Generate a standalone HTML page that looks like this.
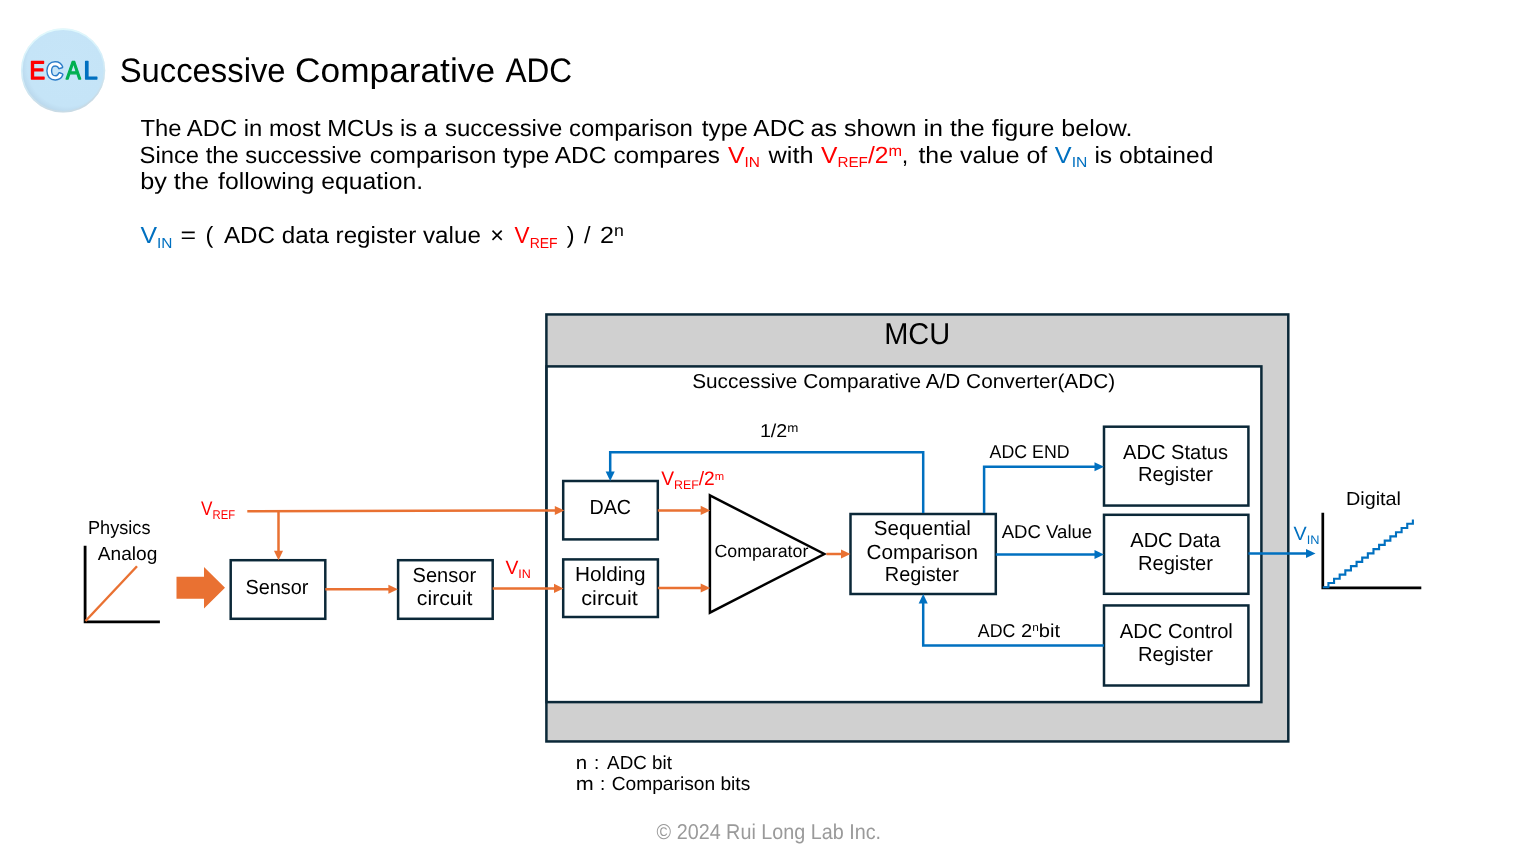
<!DOCTYPE html>
<html><head><meta charset="utf-8">
<style>
html,body{margin:0;padding:0;background:#fff;width:1536px;height:864px;overflow:hidden;}
svg{display:block;will-change:transform;text-rendering:geometricPrecision;font-family:"Liberation Sans",sans-serif;}
</style></head>
<body>
<svg width="1536" height="864" viewBox="0 0 1536 864"><defs>
<radialGradient id="lg" cx="55%" cy="45%" r="55%">
<stop offset="0%" stop-color="#c6e5f8"/>
<stop offset="88%" stop-color="#c5e4f7"/>
<stop offset="100%" stop-color="#bcdaee"/>
</radialGradient>
<linearGradient id="rim" x1="0" y1="0" x2="0.2" y2="1">
<stop offset="0%" stop-color="#e4fbfd"/>
<stop offset="45%" stop-color="#d4f0fb"/>
<stop offset="100%" stop-color="#c8dbe6"/>
</linearGradient>
<marker id="ao" viewBox="0 0 9.5 9.2" refX="9.5" refY="4.6" markerWidth="9.5" markerHeight="9.2" markerUnits="userSpaceOnUse" orient="auto" overflow="visible"><path d="M0,0L9.5,4.6L0,9.2z" fill="#E97132"/></marker>
<marker id="ab" viewBox="0 0 9.5 9.2" refX="9.5" refY="4.6" markerWidth="9.5" markerHeight="9.2" markerUnits="userSpaceOnUse" orient="auto" overflow="visible"><path d="M0,0L9.5,4.6L0,9.2z" fill="#0070C0"/></marker>
</defs>
<circle cx="63.1" cy="70.4" r="42.2" fill="#eef2f5"/>
<circle cx="63.1" cy="70.4" r="41.3" fill="url(#lg)" stroke="url(#rim)" stroke-width="1.6"/>

<rect x="546.4" y="314.45" width="741.9" height="427.0" fill="#D0D0D0" stroke="#0B2838" stroke-width="2.5"/>
<rect x="546.6" y="366.4" width="714.8" height="335.7" fill="#ffffff" stroke="#0B2838" stroke-width="2.5"/>
<g fill="#fff" stroke="#0B2838" stroke-width="2.5">
<rect x="230.7" y="560.2" width="94.6" height="58.6"/>
<rect x="398.1" y="560.2" width="94.6" height="58.6"/>
<rect x="563.2" y="481.0" width="94.6" height="58.4"/>
<rect x="563.2" y="559.4" width="94.7" height="57.6"/>
<rect x="850.5" y="514.0" width="145.3" height="80"/>
<rect x="1104" y="426.7" width="144.4" height="78.86"/>
<rect x="1104" y="514.8" width="144.4" height="79"/>
<rect x="1104" y="605.45" width="144.4" height="80.05"/>
</g>
<path d="M709.9,495.4 L824.3,554 L709.9,612.6 Z" fill="#fff" stroke="#000" stroke-width="2.5" stroke-linejoin="miter"/>
<path d="M85.1,545.8 V621.8 H159.9" fill="none" stroke="#000" stroke-width="2.8"/>
<path d="M85.5,621 L137,566.3" fill="none" stroke="#E97132" stroke-width="2.4"/>
<path d="M176.5,576.7 H204 V567 L225,587.8 L204,608.6 V598.8 H176.5 Z" fill="#E97132"/>
<path d="M247.30,511.30 L559.80,510.41" fill="none" stroke="#E97132" stroke-width="2.5" stroke-linejoin="miter"/><path d="M564.30,510.40 L554.81,514.98 L554.79,505.88 Z" fill="#E97132"/><path d="M278.50,511.30 L278.50,555.70" fill="none" stroke="#E97132" stroke-width="2.5" stroke-linejoin="miter"/><path d="M278.50,560.20 L273.95,550.70 L283.05,550.70 Z" fill="#E97132"/><path d="M325.30,589.20 L393.40,589.20" fill="none" stroke="#E97132" stroke-width="2.5" stroke-linejoin="miter"/><path d="M397.90,589.20 L388.40,593.75 L388.40,584.65 Z" fill="#E97132"/><path d="M492.70,588.40 L559.00,588.40" fill="none" stroke="#E97132" stroke-width="2.5" stroke-linejoin="miter"/><path d="M563.50,588.40 L554.00,592.95 L554.00,583.85 Z" fill="#E97132"/><path d="M657.80,510.40 L705.70,510.40" fill="none" stroke="#E97132" stroke-width="2.5" stroke-linejoin="miter"/><path d="M710.20,510.40 L700.70,514.95 L700.70,505.85 Z" fill="#E97132"/><path d="M657.90,588.00 L705.70,588.00" fill="none" stroke="#E97132" stroke-width="2.5" stroke-linejoin="miter"/><path d="M710.20,588.00 L700.70,592.55 L700.70,583.45 Z" fill="#E97132"/><path d="M826.40,554.00 L846.00,554.00" fill="none" stroke="#E97132" stroke-width="2.5" stroke-linejoin="miter"/><path d="M850.50,554.00 L841.00,558.55 L841.00,549.45 Z" fill="#E97132"/><path d="M923.20,513.00 L923.20,452.20 L610.20,452.20 L610.20,476.60" fill="none" stroke="#0070C0" stroke-width="2.5" stroke-linejoin="miter"/><path d="M610.20,481.10 L605.65,471.60 L614.75,471.60 Z" fill="#0070C0"/><path d="M984.10,513.00 L984.10,466.80 L1099.50,466.80" fill="none" stroke="#0070C0" stroke-width="2.5" stroke-linejoin="miter"/><path d="M1104.00,466.80 L1094.50,471.35 L1094.50,462.25 Z" fill="#0070C0"/><path d="M995.80,554.50 L1099.50,554.50" fill="none" stroke="#0070C0" stroke-width="2.5" stroke-linejoin="miter"/><path d="M1104.00,554.50 L1094.50,559.05 L1094.50,549.95 Z" fill="#0070C0"/><path d="M1104.00,645.60 L923.20,645.60 L923.20,598.50" fill="none" stroke="#0070C0" stroke-width="2.5" stroke-linejoin="miter"/><path d="M923.20,594.00 L927.75,603.50 L918.65,603.50 Z" fill="#0070C0"/><path d="M1248.40,553.50 L1311.00,553.50" fill="none" stroke="#0070C0" stroke-width="2.5" stroke-linejoin="miter"/><path d="M1315.50,553.50 L1306.00,558.05 L1306.00,548.95 Z" fill="#0070C0"/>
<path d="M1322.8,512.8 V587.8 H1421.3" fill="none" stroke="#000" stroke-width="2.7"/>
<path d="M1322.8,587.3 H1328.43 V583.06 H1334.06 V578.82 H1339.69 V574.58 H1345.32 V570.34 H1350.95 V566.10 H1356.58 V561.86 H1362.21 V557.62 H1367.84 V553.38 H1373.47 V549.14 H1379.10 V544.90 H1384.73 V540.66 H1390.36 V536.42 H1395.99 V532.18 H1401.62 V527.94 H1407.25 V523.70 H1412.88 V519.46" fill="none" stroke="#0070C0" stroke-width="2.1"/>

<text x="119.70" y="82.00" font-size="34" fill="#000" textLength="165.90" lengthAdjust="spacingAndGlyphs" xml:space="preserve"><tspan y="82.00">Successive</tspan></text>
<text x="295.10" y="82.00" font-size="34" fill="#000" textLength="199.90" lengthAdjust="spacingAndGlyphs" xml:space="preserve"><tspan y="82.00">Comparative</tspan></text>
<text x="505.40" y="82.00" font-size="34" fill="#000" textLength="66.60" lengthAdjust="spacingAndGlyphs" xml:space="preserve"><tspan y="82.00">ADC</tspan></text>
<text x="140.50" y="135.90" font-size="23.4" fill="#000000" textLength="296.60" lengthAdjust="spacingAndGlyphs" xml:space="preserve"><tspan y="135.90">The ADC in most MCUs is a</tspan></text>
<text x="445.00" y="135.90" font-size="23.4" fill="#000000" textLength="247.90" lengthAdjust="spacingAndGlyphs" xml:space="preserve"><tspan y="135.90">successive comparison</tspan></text>
<text x="701.80" y="135.90" font-size="23.4" fill="#000000" textLength="103.10" lengthAdjust="spacingAndGlyphs" xml:space="preserve"><tspan y="135.90">type ADC</tspan></text>
<text x="810.60" y="135.90" font-size="23.4" fill="#000000" textLength="321.80" lengthAdjust="spacingAndGlyphs" xml:space="preserve"><tspan y="135.90">as shown in the figure below.</tspan></text>
<text x="139.50" y="162.90" font-size="23.4" fill="#000000" textLength="222.30" lengthAdjust="spacingAndGlyphs" xml:space="preserve"><tspan y="162.90">Since the successive</tspan></text>
<text x="369.70" y="162.90" font-size="23.4" fill="#000000" textLength="236.80" lengthAdjust="spacingAndGlyphs" xml:space="preserve"><tspan y="162.90">comparison type ADC</tspan></text>
<text x="613.40" y="162.90" font-size="23.4" fill="#000000" textLength="106.60" lengthAdjust="spacingAndGlyphs" xml:space="preserve"><tspan y="162.90">compares</tspan></text>
<text x="727.90" y="162.90" font-size="23.4" fill="#FF0000" textLength="32.00" lengthAdjust="spacingAndGlyphs" xml:space="preserve"><tspan y="162.90">V</tspan><tspan font-size="14.50" y="167.10">IN</tspan></text>
<text x="768.60" y="162.90" font-size="23.4" fill="#000000" textLength="45.00" lengthAdjust="spacingAndGlyphs" xml:space="preserve"><tspan y="162.90">with</tspan></text>
<text x="821.00" y="162.90" font-size="23.4" fill="#FF0000" textLength="81.00" lengthAdjust="spacingAndGlyphs" xml:space="preserve"><tspan y="162.90">V</tspan><tspan font-size="14.50" y="167.10">REF</tspan><tspan y="162.90">/2</tspan><tspan font-size="15.50" y="156.00">m</tspan></text>
<text x="901.65" y="162.90" font-size="23.4" fill="#000000" xml:space="preserve"><tspan y="162.90">,</tspan></text>
<text x="918.40" y="162.90" font-size="23.4" fill="#000000" textLength="128.80" lengthAdjust="spacingAndGlyphs" xml:space="preserve"><tspan y="162.90">the value of</tspan></text>
<text x="1054.80" y="162.90" font-size="23.4" fill="#0070C0" textLength="32.50" lengthAdjust="spacingAndGlyphs" xml:space="preserve"><tspan y="162.90">V</tspan><tspan font-size="14.50" y="167.10">IN</tspan></text>
<text x="1094.40" y="162.90" font-size="23.4" fill="#000000" textLength="119.00" lengthAdjust="spacingAndGlyphs" xml:space="preserve"><tspan y="162.90">is obtained</tspan></text>
<text x="140.20" y="189.40" font-size="23.4" fill="#000000" textLength="68.80" lengthAdjust="spacingAndGlyphs" xml:space="preserve"><tspan y="189.40">by the</tspan></text>
<text x="218.00" y="189.40" font-size="23.4" fill="#000000" textLength="205.10" lengthAdjust="spacingAndGlyphs" xml:space="preserve"><tspan y="189.40">following equation.</tspan></text>
<text x="140.50" y="242.90" font-size="23.4" fill="#0070C0" textLength="32.00" lengthAdjust="spacingAndGlyphs" xml:space="preserve"><tspan y="242.90">V</tspan><tspan font-size="14.50" y="247.80">IN</tspan></text>
<text x="180.60" y="242.90" font-size="23.4" fill="#000000" textLength="15.60" lengthAdjust="spacingAndGlyphs" xml:space="preserve"><tspan y="242.90">=</tspan></text>
<text x="205.45" y="242.90" font-size="23.4" fill="#000000" xml:space="preserve"><tspan y="242.90">(</tspan></text>
<text x="223.90" y="242.90" font-size="23.4" fill="#000000" textLength="257.00" lengthAdjust="spacingAndGlyphs" xml:space="preserve"><tspan y="242.90">ADC data register value</tspan></text>
<text x="490.25" y="242.90" font-size="23.4" fill="#000000" xml:space="preserve"><tspan y="242.90">×</tspan></text>
<text x="514.60" y="242.90" font-size="23.4" fill="#FF0000" textLength="43.00" lengthAdjust="spacingAndGlyphs" xml:space="preserve"><tspan y="242.90">V</tspan><tspan font-size="14.50" y="247.80">REF</tspan></text>
<text x="566.75" y="242.90" font-size="23.4" fill="#000000" xml:space="preserve"><tspan y="242.90">)</tspan></text>
<text x="583.95" y="242.90" font-size="23.4" fill="#000000" xml:space="preserve"><tspan y="242.90">/</tspan></text>
<text x="600.10" y="242.90" font-size="23.4" fill="#000000" textLength="23.90" lengthAdjust="spacingAndGlyphs" xml:space="preserve"><tspan y="242.90">2</tspan><tspan font-size="16.50" y="236.20">n</tspan></text>
<text x="884.20" y="344.10" font-size="30.2" fill="#000" textLength="66.00" lengthAdjust="spacingAndGlyphs" xml:space="preserve"><tspan y="344.10">MCU</tspan></text>
<text x="692.20" y="388.20" font-size="20.2" fill="#000000" textLength="423.00" lengthAdjust="spacingAndGlyphs" xml:space="preserve"><tspan y="388.20">Successive Comparative A/D Converter(ADC)</tspan></text>
<text x="245.40" y="593.70" font-size="20.5" fill="#000000" textLength="63.00" lengthAdjust="spacingAndGlyphs" xml:space="preserve"><tspan y="593.70">Sensor</tspan></text>
<text x="412.60" y="581.90" font-size="20.5" fill="#000000" textLength="63.50" lengthAdjust="spacingAndGlyphs" xml:space="preserve"><tspan y="581.90">Sensor</tspan></text>
<text x="416.80" y="604.70" font-size="20.5" fill="#000000" textLength="55.50" lengthAdjust="spacingAndGlyphs" xml:space="preserve"><tspan y="604.70">circuit</tspan></text>
<text x="589.50" y="514.40" font-size="20.5" fill="#000000" textLength="41.50" lengthAdjust="spacingAndGlyphs" xml:space="preserve"><tspan y="514.40">DAC</tspan></text>
<text x="575.00" y="581.20" font-size="20.5" fill="#000000" textLength="70.50" lengthAdjust="spacingAndGlyphs" xml:space="preserve"><tspan y="581.20">Holding</tspan></text>
<text x="581.30" y="604.50" font-size="20.5" fill="#000000" textLength="56.50" lengthAdjust="spacingAndGlyphs" xml:space="preserve"><tspan y="604.50">circuit</tspan></text>
<text x="714.40" y="557.20" font-size="17.6" fill="#000000" textLength="94.00" lengthAdjust="spacingAndGlyphs" xml:space="preserve"><tspan y="557.20">Comparator</tspan></text>
<text x="873.80" y="534.70" font-size="20.5" fill="#000000" textLength="97.00" lengthAdjust="spacingAndGlyphs" xml:space="preserve"><tspan y="534.70">Sequential</tspan></text>
<text x="866.50" y="558.50" font-size="20.5" fill="#000000" textLength="111.50" lengthAdjust="spacingAndGlyphs" xml:space="preserve"><tspan y="558.50">Comparison</tspan></text>
<text x="884.80" y="581.10" font-size="20.5" fill="#000000" textLength="74.00" lengthAdjust="spacingAndGlyphs" xml:space="preserve"><tspan y="581.10">Register</tspan></text>
<text x="1123.00" y="458.90" font-size="20.5" fill="#000000" textLength="105.00" lengthAdjust="spacingAndGlyphs" xml:space="preserve"><tspan y="458.90">ADC Status</tspan></text>
<text x="1137.90" y="481.00" font-size="20.5" fill="#000000" textLength="75.00" lengthAdjust="spacingAndGlyphs" xml:space="preserve"><tspan y="481.00">Register</tspan></text>
<text x="1130.30" y="547.40" font-size="20.5" fill="#000000" textLength="90.00" lengthAdjust="spacingAndGlyphs" xml:space="preserve"><tspan y="547.40">ADC Data</tspan></text>
<text x="1137.90" y="570.40" font-size="20.5" fill="#000000" textLength="75.00" lengthAdjust="spacingAndGlyphs" xml:space="preserve"><tspan y="570.40">Register</tspan></text>
<text x="1119.80" y="637.90" font-size="20.5" fill="#000000" textLength="113.00" lengthAdjust="spacingAndGlyphs" xml:space="preserve"><tspan y="637.90">ADC Control</tspan></text>
<text x="1137.90" y="661.00" font-size="20.5" fill="#000000" textLength="75.00" lengthAdjust="spacingAndGlyphs" xml:space="preserve"><tspan y="661.00">Register</tspan></text>
<text x="759.90" y="436.70" font-size="18.5" fill="#000000" textLength="38.50" lengthAdjust="spacingAndGlyphs" xml:space="preserve"><tspan y="436.70">1/2</tspan><tspan font-size="12.50" y="431.50">m</tspan></text>
<text x="989.60" y="458.30" font-size="18.7" fill="#000000" textLength="80.00" lengthAdjust="spacingAndGlyphs" xml:space="preserve"><tspan y="458.30">ADC END</tspan></text>
<text x="1001.70" y="538.10" font-size="18.7" fill="#000000" textLength="90.50" lengthAdjust="spacingAndGlyphs" xml:space="preserve"><tspan y="538.10">ADC Value</tspan></text>
<text x="977.80" y="637.00" font-size="18.7" fill="#000000" textLength="37.60" lengthAdjust="spacingAndGlyphs" xml:space="preserve"><tspan y="637.00">ADC</tspan></text>
<text x="1021.00" y="637.00" font-size="18.7" fill="#000000" textLength="39.00" lengthAdjust="spacingAndGlyphs" xml:space="preserve"><tspan y="637.00">2</tspan><tspan font-size="11.00" y="631.40">n</tspan><tspan y="637.00">bit</tspan></text>
<text x="201.10" y="515.20" font-size="19.5" fill="#FF0000" textLength="34.00" lengthAdjust="spacingAndGlyphs" xml:space="preserve"><tspan y="515.20">V</tspan><tspan font-size="12.80" y="519.10">REF</tspan></text>
<text x="505.40" y="574.30" font-size="19.2" fill="#FF0000" textLength="25.50" lengthAdjust="spacingAndGlyphs" xml:space="preserve"><tspan y="574.30">V</tspan><tspan font-size="12.40" y="578.30">IN</tspan></text>
<text x="661.20" y="485.30" font-size="19.5" fill="#FF0000" textLength="63.00" lengthAdjust="spacingAndGlyphs" xml:space="preserve"><tspan y="485.30">V</tspan><tspan font-size="12.50" y="489.20">REF</tspan><tspan y="485.30">/2</tspan><tspan font-size="11.40" y="480.10">m</tspan></text>
<text x="1293.50" y="539.70" font-size="19.2" fill="#0070C0" textLength="26.00" lengthAdjust="spacingAndGlyphs" xml:space="preserve"><tspan y="539.70">V</tspan><tspan font-size="12.40" y="543.70">IN</tspan></text>
<text x="88.00" y="533.50" font-size="18.9" fill="#000000" textLength="62.50" lengthAdjust="spacingAndGlyphs" xml:space="preserve"><tspan y="533.50">Physics</tspan></text>
<text x="97.80" y="560.40" font-size="18.9" fill="#000000" textLength="59.50" lengthAdjust="spacingAndGlyphs" xml:space="preserve"><tspan y="560.40">Analog</tspan></text>
<text x="1346.00" y="504.60" font-size="18.9" fill="#000000" textLength="55.00" lengthAdjust="spacingAndGlyphs" xml:space="preserve"><tspan y="504.60">Digital</tspan></text>
<text x="575.80" y="768.60" font-size="18.9" fill="#000000" textLength="11.40" lengthAdjust="spacingAndGlyphs" xml:space="preserve"><tspan y="768.60">n</tspan></text>
<text x="594.10" y="768.60" font-size="18.9" fill="#000000" xml:space="preserve"><tspan y="768.60">:</tspan></text>
<text x="607.10" y="768.60" font-size="18.9" fill="#000000" textLength="64.80" lengthAdjust="spacingAndGlyphs" xml:space="preserve"><tspan y="768.60">ADC bit</tspan></text>
<text x="575.80" y="789.80" font-size="18.9" fill="#000000" textLength="18.00" lengthAdjust="spacingAndGlyphs" xml:space="preserve"><tspan y="789.80">m</tspan></text>
<text x="599.95" y="789.80" font-size="18.9" fill="#000000" xml:space="preserve"><tspan y="789.80">:</tspan></text>
<text x="611.70" y="789.80" font-size="18.9" fill="#000000" textLength="138.60" lengthAdjust="spacingAndGlyphs" xml:space="preserve"><tspan y="789.80">Comparison bits</tspan></text>
<text x="656.60" y="838.75" font-size="21.4" fill="#9a9a9a" textLength="224.50" lengthAdjust="spacingAndGlyphs" xml:space="preserve"><tspan y="838.75">© 2024 Rui Long Lab Inc.</tspan></text>
<text x="29.50" y="79.05" font-size="25.7" fill="#FF0000" textLength="15.60" lengthAdjust="spacingAndGlyphs" xml:space="preserve" stroke="#FF0000" stroke-width="1.3" stroke-linejoin="round"><tspan y="79.05">E</tspan></text>
<text x="46.80" y="78.70" font-size="23.6" fill="#ffffff" textLength="16.00" lengthAdjust="spacingAndGlyphs" xml:space="preserve" font-weight="bold" stroke="#2A7BC8" stroke-width="3" stroke-linejoin="round" paint-order="stroke"><tspan y="78.70">C</tspan></text>
<text x="66.10" y="79.05" font-size="25.7" fill="#00B050" textLength="14.80" lengthAdjust="spacingAndGlyphs" xml:space="preserve" stroke="#00B050" stroke-width="1.3" stroke-linejoin="round"><tspan y="79.05">A</tspan></text>
<text x="83.60" y="79.05" font-size="25.7" fill="#0070C0" textLength="14.20" lengthAdjust="spacingAndGlyphs" xml:space="preserve" stroke="#0070C0" stroke-width="1.3" stroke-linejoin="round"><tspan y="79.05">L</tspan></text></svg>
</body></html>
